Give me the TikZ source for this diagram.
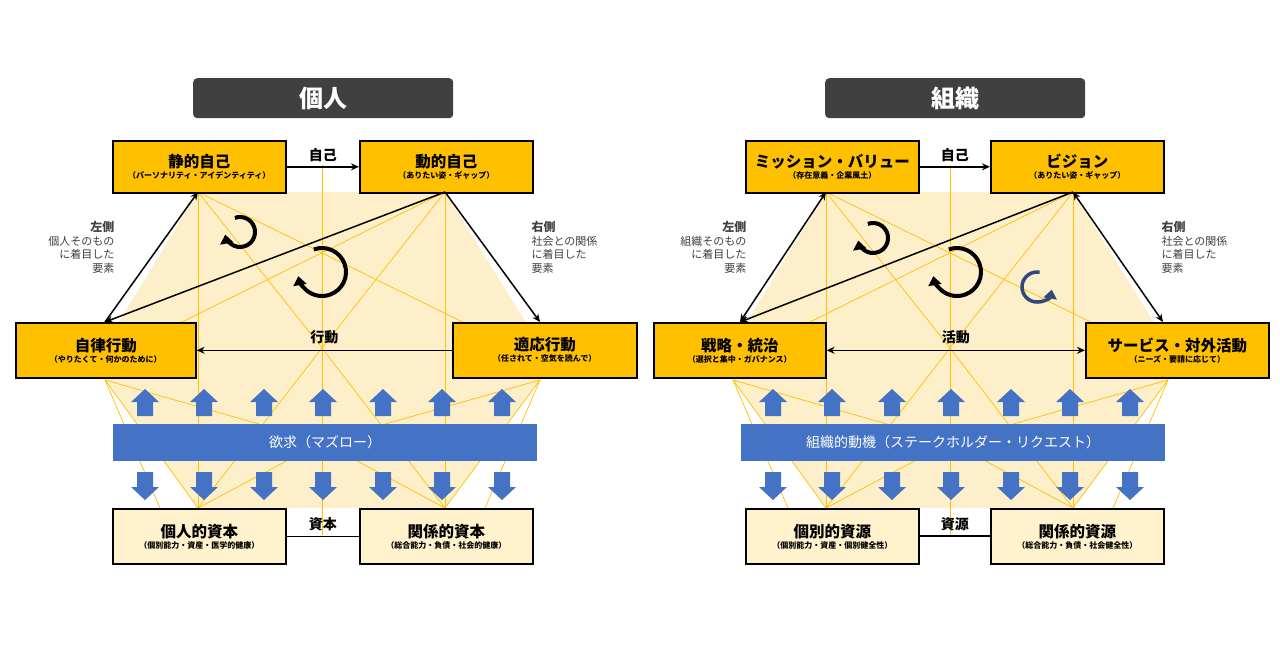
\documentclass[tikz,border=0pt]{standalone}
\usepackage{fontspec}
\setmainfont{Noto Sans CJK JP}
\usetikzlibrary{arrows.meta}
\definecolor{gold}{HTML}{FFC000}
\definecolor{pale}{HTML}{FFF2CC}
\definecolor{hexfill}{HTML}{FDEFC9}
\definecolor{barblue}{HTML}{4472C4}
\definecolor{titlegray}{HTML}{404040}
\definecolor{navy}{HTML}{2F4A7A}
\tikzset{
 mainbox/.style={draw=black,line width=1.6pt,fill=gold,align=center,inner sep=0pt,anchor=north west},
 resbox/.style={draw=black,line width=1.6pt,fill=pale,align=center,inner sep=0pt,anchor=north west},
 titlebox/.style={fill=titlegray,rounded corners=4pt,text=white,font=\bfseries\fontsize{24}{26}\selectfont,inner sep=0pt,anchor=north west},
 conn/.style={line width=1.5pt,-{Stealth[length=8pt,width=7pt]}},
 dconn/.style={line width=1.5pt,{Stealth[length=8pt,width=7pt]}-{Stealth[length=8pt,width=7pt]}},
 ylines/.style={gold,line width=0.7pt},
 lbl/.style={font=\bfseries\fontsize{14}{16}\selectfont},
 sideL/.style={font=\fontsize{11}{13.5}\selectfont,text=black!75,align=right,anchor=north east},
 sideR/.style={font=\fontsize{11}{13.5}\selectfont,text=black!75,align=left,anchor=north west},
 cyc/.style={line width=4pt,-{Triangle[length=9pt,width=13pt]}},
}
\newcommand{\Main}[2]{{\bfseries\fontsize{15.5}{18}\selectfont #1}\\[-1pt]{\bfseries\fontsize{8}{9}\selectfont #2}}
\newcommand{\Backdrop}[1]{%
 \fill[hexfill] (198,192)--(445,192)--(540,345)--(540,380)--(445,508)--(198,508)--(105,380)--(105,345)--cycle;
 \draw[ylines] (198,192)--(198,508) (445,192)--(445,508) (322,165)--(322,535);
 \draw[ylines] (198,192)--(322,348)--(445,192);
 \draw[ylines] (198,192)--(540,360) (445,192)--(105,360);
 \draw[ylines] (198,508)--(322,348)--(445,508);
 \draw[ylines] (198,508)--(322,442)--(445,508);
 \draw[ylines] (105,380)--(198,508) (540,380)--(445,508);
 \draw[ylines] (105,380)--(322,442)--(540,380);
 \draw[ylines] (105,380)--(160,508) (540,380)--(485,508);
 \fill[barblue] (113,424) rectangle (537,461);
 \node[text=white,font=\fontsize{14}{16}\selectfont] at (325,442.5) {#1};
 \foreach \ax in {145,204,264,323,383,442,502}{
  \fill[barblue] (\ax,389)--(\ax+14,402)--(\ax+8,402)--(\ax+8,416)--(\ax-8,416)--(\ax-8,402)--(\ax-14,402)--cycle;
  \fill[barblue] (\ax,500)--(\ax+14,487)--(\ax+8,487)--(\ax+8,472)--(\ax-8,472)--(\ax-8,487)--(\ax-14,487)--cycle;
 }}
\begin{document}
\begin{tikzpicture}[x=1pt,y=-1pt]
\useasboundingbox (0,0) rectangle (1280,670);
\fill[white] (0,0) rectangle (1280,670);
% ---------- left panel ----------
\Backdrop{欲求（マズロー）}
\node[titlebox,minimum width=260pt,minimum height=40pt] (t1) at (193,78) {個人};
\node[mainbox,minimum width=173pt,minimum height=52pt] (a1) at (112,140) {\Main{静的自己}{（パーソナリティ・アイデンティティ）}};
\node[mainbox,minimum width=173pt,minimum height=52pt] (b1) at (359,140) {\Main{動的自己}{（ありたい姿・ギャップ）}};
\node[mainbox,minimum width=180pt,minimum height=55pt] (c1) at (15,322) {\Main{自律行動}{（やりたくて・何かのために）}};
\node[mainbox,minimum width=184pt,minimum height=55pt] (d1) at (452,322) {\Main{適応行動}{（任されて・空気を読んで）}};
\node[resbox,minimum width=173pt,minimum height=55pt] (e1) at (112,508) {\Main{個人的資本}{（個別能力・資産・医学的健康）}};
\node[resbox,minimum width=173pt,minimum height=55pt] (f1) at (359,508) {\Main{関係的資本}{（総合能力・負債・社会的健康）}};
\coordinate (a1b) at (198,192); \coordinate (b1b) at (445,192);
\coordinate (c1t) at (105,322); \coordinate (d1t) at (540,322);
\draw[conn] (a1.east) -- (b1.west) node[midway,above=1pt,lbl]{自己};
\draw[conn] (c1t) -- (a1b);
\draw[conn] (b1b) -- (c1t);
\draw[conn] (b1b) -- (d1t);
\draw[conn] (d1.west) -- (c1.east) node[midway,above=2pt,lbl]{行動};
\draw[line width=1.5pt] (e1.east) -- (f1.west) node[midway,above=1pt,lbl]{資本};
\node[sideL] (l1) at (118,218) {{\bfseries\fontsize{12}{14}\selectfont 左側}\\ 個人そのもの\\ に着目した\\ 要素};
\node[sideR] (r1) at (528,218) {{\bfseries\fontsize{12}{14}\selectfont 右側}\\ 社会との関係\\ に着目した\\ 要素};
\draw[cyc] (240,232) ++(-110:15) arc[start angle=-110,end angle=170,radius=15];
\draw[cyc] (322,272) ++(-110:24) arc[start angle=-110,end angle=170,radius=24];
% ---------- right panel ----------
\begin{scope}[xshift=628pt]
\Backdrop{組織的動機（ステークホルダー・リクエスト）}
\end{scope}
\node[titlebox,minimum width=260pt,minimum height=40pt] (t2) at (825,78) {組織};
\node[mainbox,minimum width=173pt,minimum height=52pt] (a2) at (745,140) {\Main{ミッション・バリュー}{（存在意義・企業風土）}};
\node[mainbox,minimum width=173pt,minimum height=52pt] (b2) at (990,140) {\Main{ビジョン}{（ありたい姿・ギャップ）}};
\node[mainbox,minimum width=172pt,minimum height=55pt] (c2) at (653,322) {\Main{戦略・統治}{（選択と集中・ガバナンス）}};
\node[mainbox,minimum width=183pt,minimum height=55pt] (d2) at (1085,322) {\Main{サービス・対外活動}{（ニーズ・要請に応じて）}};
\node[resbox,minimum width=173pt,minimum height=55pt] (e2) at (745,508) {\Main{個別的資源}{（個別能力・資産・個別健全性）}};
\node[resbox,minimum width=173pt,minimum height=55pt] (f2) at (990,508) {\Main{関係的資源}{（総合能力・負債・社会健全性）}};
\coordinate (a2b) at (826,192); \coordinate (b2b) at (1073,192);
\coordinate (c2t) at (740,322); \coordinate (d2t) at (1163,322);
\draw[conn] (a2.east) -- (b2.west) node[midway,above=1pt,lbl]{自己};
\draw[dconn] (c2t) -- (a2b);
\draw[conn] (b2b) -- (c2t);
\draw[dconn] (b2b) -- (d2t);
\draw[dconn] (c2.east) -- (d2.west) node[midway,above=2pt,lbl]{活動};
\draw[line width=2.2pt] (e2.east) -- (f2.west) node[midway,above=1pt,lbl]{資源};
\node[sideL] (l2) at (750,218) {{\bfseries\fontsize{12}{14}\selectfont 左側}\\ 組織そのもの\\ に着目した\\ 要素};
\node[sideR] (r2) at (1158,218) {{\bfseries\fontsize{12}{14}\selectfont 右側}\\ 社会との関係\\ に着目した\\ 要素};
\draw[cyc] (873,238) ++(-110:15) arc[start angle=-110,end angle=170,radius=15];
\draw[cyc] (957,272) ++(-110:24) arc[start angle=-110,end angle=170,radius=24];
\draw[cyc,navy,line width=3.5pt] (1037,287) ++(-80:15) arc[start angle=-80,end angle=-350,radius=15];
\end{tikzpicture}
\end{document}
